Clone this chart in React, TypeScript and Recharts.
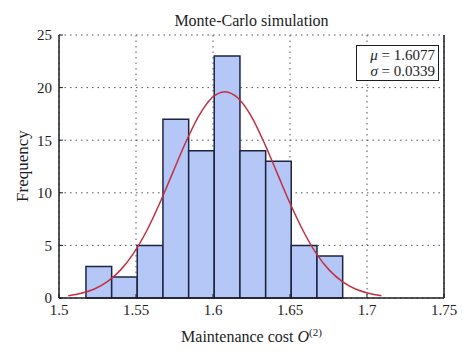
import { CartesianGrid, ComposedChart, Line, ReferenceArea, XAxis, YAxis } from "recharts";

// histogram bins (edges) and counts
const binEdges = [1.5175, 1.5342, 1.5508, 1.5675, 1.5842, 1.6008, 1.6175, 1.6342, 1.6508, 1.6675, 1.6842];
const binCounts = [3, 2, 5, 17, 14, 23, 14, 13, 5, 4];

// fitted normal curve
const curveX = [
  1.506, 1.5145, 1.523, 1.5314, 1.5399, 1.5484, 1.5569, 1.5653, 1.5738, 1.5823, 1.5908, 1.5992, 1.6077,
  1.6162, 1.6247, 1.6331, 1.6416, 1.6501, 1.6586, 1.667, 1.6755, 1.684, 1.6925, 1.7009, 1.7094,
];
const curveY = [
  0.22, 0.45, 0.86, 1.56, 2.65, 4.24, 6.37, 8.98, 11.89, 14.8, 17.31, 19.01, 19.61,
  19.01, 17.31, 14.8, 11.89, 8.98, 6.37, 4.24, 2.65, 1.56, 0.86, 0.45, 0.22,
];

const xTicks = [1.5, 1.55, 1.6, 1.65, 1.7, 1.75];
const yTicks = [0, 5, 10, 15, 20, 25];

const FONT = "'Liberation Serif', 'DejaVu Serif', serif";
const INK = "#1c1c24";

export default function App() {
  const curve = curveX.map((x, i) => ({ x, y: curveY[i] }));
  const tickStyle = { fontFamily: FONT, fontSize: 15, fill: INK };

  return (
    <div style={{ position: "fixed", left: 0, top: 0, width: 474, height: 362, background: "#fff", fontFamily: FONT, color: INK }}>
      <ComposedChart width={474} height={362} data={curve} margin={{ top: 35, right: 0, bottom: 0, left: 0 }}>
        <CartesianGrid stroke="#555" strokeDasharray="1.5 4" horizontalValues={yTicks} verticalValues={xTicks} />
        <XAxis
          dataKey="x"
          type="number"
          domain={[1.5, 1.75]}
          ticks={xTicks}
          height={64}
          axisLine={{ stroke: INK, strokeWidth: 1.5 }}
          tickLine={{ stroke: INK }}
          tickSize={-4}
          tickMargin={10}
          tick={tickStyle}
          allowDataOverflow
        />
        <XAxis
          xAxisId="top"
          orientation="top"
          type="number"
          domain={[1.5, 1.75]}
          ticks={xTicks}
          height={0}
          axisLine={{ stroke: INK, strokeWidth: 1.5 }}
          tickLine={{ stroke: INK }}
          tickSize={-4}
          tick={false}
        />
        <YAxis
          type="number"
          domain={[0, 25]}
          ticks={yTicks}
          width={59}
          axisLine={{ stroke: INK, strokeWidth: 1.5 }}
          tickLine={{ stroke: INK }}
          tickSize={-4}
          tickMargin={11}
          tick={tickStyle}
          allowDataOverflow
        />
        <YAxis
          yAxisId="right"
          orientation="right"
          type="number"
          domain={[0, 25]}
          ticks={yTicks}
          width={30}
          axisLine={{ stroke: INK, strokeWidth: 1.5 }}
          tickLine={{ stroke: INK }}
          tickSize={-4}
          tick={false}
        />
        {binCounts.map((c, i) => (
          <ReferenceArea
            key={i}
            x1={binEdges[i]}
            x2={binEdges[i + 1]}
            y1={0}
            y2={c}
            fill="#b4c7f7"
            fillOpacity={1}
            stroke="#1c2440"
            strokeWidth={1.5}
          />
        ))}
        <Line dataKey="y" type="monotone" stroke="#c3303f" strokeWidth={1.5} dot={false} isAnimationActive={false} />
      </ComposedChart>

      <div style={{ position: "absolute", left: 59, width: 385, top: 12, textAlign: "center", fontSize: 16 }}>
        Monte-Carlo simulation
      </div>
      <div style={{ position: "absolute", left: 59, width: 385, top: 326, textAlign: "center", fontSize: 16 }}>
        Maintenance cost <i>O</i>
        <sup style={{ fontSize: 11 }}>(2)</sup>
      </div>
      <div
        style={{
          position: "absolute",
          left: 23,
          top: 166,
          transform: "translate(-50%, -50%) rotate(-90deg)",
          fontSize: 17,
          whiteSpace: "nowrap",
        }}
      >
        Frequency
      </div>
      <div
        style={{
          position: "absolute",
          left: 356,
          top: 45,
          width: 78,
          height: 33,
          border: `1.5px solid ${INK}`,
          background: "#fff",
          fontSize: 15,
          lineHeight: "16px",
          textAlign: "right",
          padding: "1px 3px 0 0",
          boxSizing: "content-box",
        }}
      >
        <div>
          <i>μ</i> = 1.6077
        </div>
        <div>
          <i>σ</i> = 0.0339
        </div>
      </div>
    </div>
  );
}
